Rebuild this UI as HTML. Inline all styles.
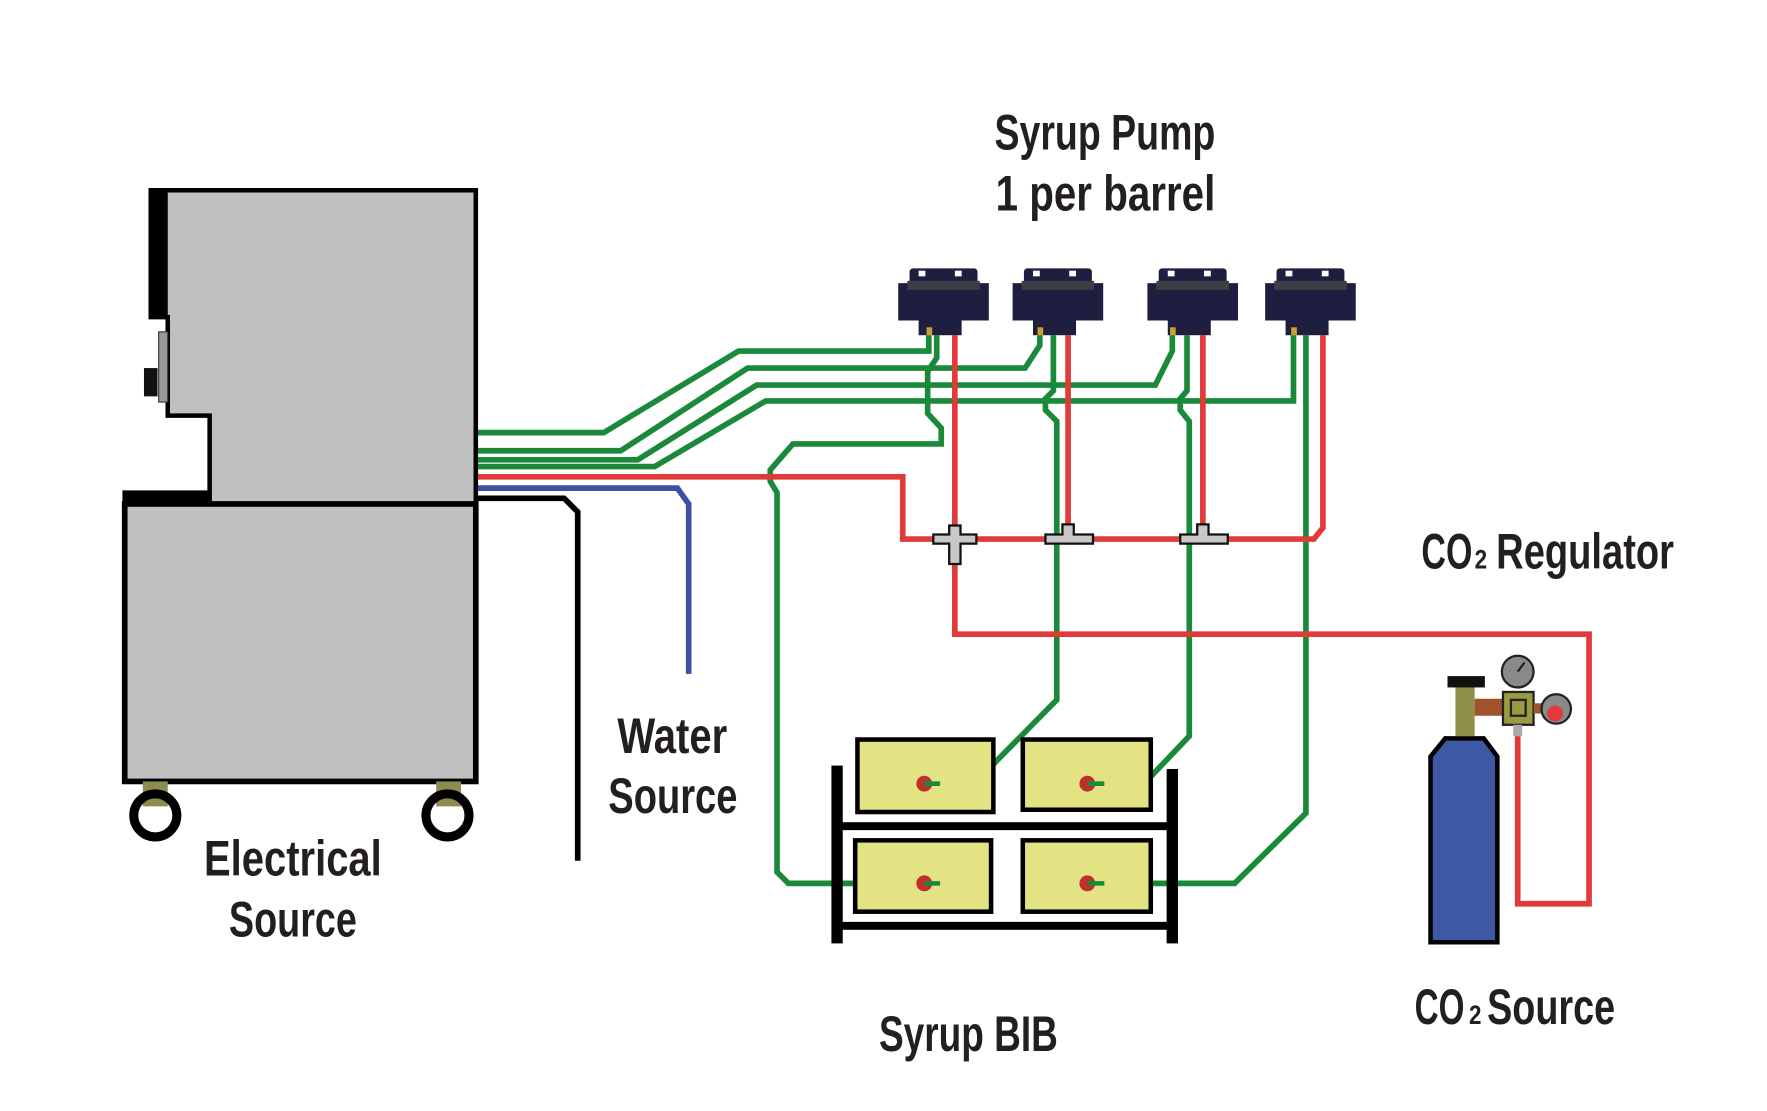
<!DOCTYPE html>
<html><head><style>
html,body{margin:0;padding:0;background:#fff;}
svg{display:block;}
text{font-family:"Liberation Sans Narrow","Liberation Sans",sans-serif;font-weight:bold;fill:#231f20;}
</style></head><body>
<svg width="1767" height="1111" viewBox="0 0 1560 981" xmlns="http://www.w3.org/2000/svg">
<rect width="1560" height="981" fill="#fff"/>
<g fill="none" stroke-linejoin="miter" stroke-width="5">
<polyline stroke="#1a8a3a" points="420,382 533,382 652,310 820,310 820,296"/>
<polyline stroke="#1a8a3a" points="420,398 548,398 660,325 905,325 918,305 918,296"/>
<polyline stroke="#1a8a3a" points="420,406 563,406 668,340 1020,340 1035,310 1035,296"/>
<polyline stroke="#1a8a3a" points="420,412 578,412 676,354 1142,354 1142,296"/>
<polyline stroke="#1a8a3a" points="827,296 827,316 819,328 819,365 831,378 831,392 700,392 680,415 680,425 686,435 686,770 696,780 816,780"/>
<polyline stroke="#1a8a3a" points="930,296 930,345 923,352 923,362 933,372 933,618 860,692 816,692"/>
<polyline stroke="#1a8a3a" points="1048,296 1048,345 1042,352 1042,362 1050,372 1050,650 1010,692 960,692"/>
<polyline stroke="#1a8a3a" points="1153,296 1153,718 1090,780 960,780"/>
<polyline stroke="#e03a3a" points="420,421 797,421 797,476 1160,476 1168,466 1168,296"/>
<polyline stroke="#e03a3a" points="843,296 843,560 1403,560 1403,798 1340,798 1340,650"/>
<polyline stroke="#e03a3a" points="943,296 943,476"/>
<polyline stroke="#e03a3a" points="1062,296 1062,476"/>
<polyline stroke="#3f4fa3" points="420,431 598,431 608,445 608,595"/>
<polyline stroke="#000" points="420,440 498,440 510,452 510,760"/>
</g>
<g fill="#c8c8c8" stroke="#111" stroke-width="2">
<path d="M838,464 h10 v8 h14 v8 h-14 v18 h-10 v-18 h-14 v-8 h14z"/>
<path d="M938,463 h10 v9 h17 v8 h-42 v-8 h15z"/>
<path d="M1057,463 h10 v9 h17 v8 h-42 v-8 h15z"/>
</g>
<g>
<g transform="translate(833,0)"><rect x="-30" y="237" width="60" height="14" rx="3" fill="#1e1f40"/><rect x="-22" y="239" width="6" height="5" fill="#fff"/><rect x="10" y="239" width="6" height="5" fill="#fff"/><rect x="-40" y="250" width="80" height="33" fill="#1e1f40"/><rect x="-32" y="248" width="64" height="8" fill="#3d3d45"/><rect x="-22" y="283" width="38" height="13" fill="#1e1f40"/><rect x="-15" y="289" width="5" height="7" fill="#c8a030"/></g>
<g transform="translate(934,0)"><rect x="-30" y="237" width="60" height="14" rx="3" fill="#1e1f40"/><rect x="-22" y="239" width="6" height="5" fill="#fff"/><rect x="10" y="239" width="6" height="5" fill="#fff"/><rect x="-40" y="250" width="80" height="33" fill="#1e1f40"/><rect x="-32" y="248" width="64" height="8" fill="#3d3d45"/><rect x="-22" y="283" width="38" height="13" fill="#1e1f40"/><rect x="-18" y="289" width="5" height="7" fill="#c8a030"/></g>
<g transform="translate(1053,0)"><rect x="-30" y="237" width="60" height="14" rx="3" fill="#1e1f40"/><rect x="-22" y="239" width="6" height="5" fill="#fff"/><rect x="10" y="239" width="6" height="5" fill="#fff"/><rect x="-40" y="250" width="80" height="33" fill="#1e1f40"/><rect x="-32" y="248" width="64" height="8" fill="#3d3d45"/><rect x="-22" y="283" width="38" height="13" fill="#1e1f40"/><rect x="-20" y="289" width="5" height="7" fill="#c8a030"/></g>
<g transform="translate(1157,0)"><rect x="-30" y="237" width="60" height="14" rx="3" fill="#1e1f40"/><rect x="-22" y="239" width="6" height="5" fill="#fff"/><rect x="10" y="239" width="6" height="5" fill="#fff"/><rect x="-40" y="250" width="80" height="33" fill="#1e1f40"/><rect x="-32" y="248" width="64" height="8" fill="#3d3d45"/><rect x="-22" y="283" width="38" height="13" fill="#1e1f40"/><rect x="-17" y="289" width="5" height="7" fill="#c8a030"/></g>
</g>
<g>
<path d="M133,168 H420 V445 H185 V367 H148 V280 H133 Z" fill="#c0c0c0" stroke="#000" stroke-width="4"/>
<rect x="133" y="168" width="15" height="112" fill="#000"/>
<rect x="140" y="293" width="8" height="62" fill="#999" stroke="#333" stroke-width="1"/>
<rect x="127" y="325" width="12" height="25" fill="#111"/>
<rect x="108" y="433" width="77" height="14" fill="#000"/>
<rect x="110" y="445" width="310" height="245" fill="#c0c0c0" stroke="#000" stroke-width="5"/>
<rect x="126" y="690" width="22" height="22" fill="#8c8c50"/>
<rect x="385" y="690" width="22" height="22" fill="#8c8c50"/>
<circle cx="137" cy="720" r="19" fill="none" stroke="#000" stroke-width="8"/>
<circle cx="395" cy="720" r="19" fill="none" stroke="#000" stroke-width="8"/>
</g>
<g>
<rect x="734" y="676" width="10" height="157" fill="#000"/>
<rect x="1030" y="679" width="10" height="154" fill="#000"/>
<rect x="739" y="726" width="296" height="7" fill="#000"/>
<rect x="739" y="814" width="296" height="7" fill="#000"/>
<g fill="#e3e384" stroke="#000" stroke-width="4">
<rect x="757" y="653" width="120" height="64"/>
<rect x="903" y="653" width="113" height="62"/>
<rect x="755" y="742" width="120" height="63"/>
<rect x="903" y="742" width="113" height="63"/>
</g>
<g fill="#c0302a"><circle cx="816" cy="692" r="7"/><circle cx="960" cy="692" r="7"/><circle cx="816" cy="780" r="7"/><circle cx="960" cy="780" r="7"/></g>
<g stroke="#1a8a3a" stroke-width="4"><line x1="816" y1="692" x2="830" y2="692"/><line x1="960" y1="692" x2="975" y2="692"/><line x1="816" y1="780" x2="830" y2="780"/><line x1="960" y1="780" x2="975" y2="780"/></g>
</g>
<g>
<path d="M1263,832 V668 L1276,652 H1310 L1322,668 V832 Z" fill="#3f58a3" stroke="#000" stroke-width="4"/>
<rect x="1285" y="605" width="17" height="45" fill="#8f8f4a"/>
<rect x="1278" y="597" width="33" height="10" fill="#111"/>
<rect x="1302" y="617" width="28" height="15" fill="#a0522d"/>
<rect x="1327" y="611" width="27" height="29" fill="#9a9a40" stroke="#222" stroke-width="2"/>
<rect x="1334" y="618" width="13" height="14" fill="none" stroke="#222" stroke-width="2"/>
<circle cx="1340" cy="593" r="14" fill="#8a8a8a" stroke="#222" stroke-width="2"/>
<line x1="1340" y1="593" x2="1346" y2="585" stroke="#222" stroke-width="2"/>
<rect x="1354" y="621" width="8" height="9" fill="#a0522d"/>
<circle cx="1374" cy="626" r="13" fill="#8a8a8a" stroke="#222" stroke-width="2"/>
<circle cx="1373" cy="630" r="7" fill="#e03a3a"/>
<rect x="1336" y="640" width="8" height="10" fill="#aaa"/>
</g>
<text x="878" y="132" font-size="44" textLength="195" lengthAdjust="spacingAndGlyphs">Syrup Pump</text>
<text x="879" y="186" font-size="44" textLength="194" lengthAdjust="spacingAndGlyphs">1 per barrel</text>
<text x="1255" y="502" font-size="44" textLength="45" lengthAdjust="spacingAndGlyphs">CO</text>
<text x="1302" y="502" font-size="24" textLength="11" lengthAdjust="spacingAndGlyphs">2</text>
<text x="1321" y="502" font-size="44" textLength="157" lengthAdjust="spacingAndGlyphs">Regulator</text>
<text x="545" y="665" font-size="44" textLength="97" lengthAdjust="spacingAndGlyphs">Water</text>
<text x="537" y="718" font-size="44" textLength="114" lengthAdjust="spacingAndGlyphs">Source</text>
<text x="180" y="773" font-size="44" textLength="157" lengthAdjust="spacingAndGlyphs">Electrical</text>
<text x="202" y="827" font-size="44" textLength="113" lengthAdjust="spacingAndGlyphs">Source</text>
<text x="776" y="928" font-size="44" textLength="158" lengthAdjust="spacingAndGlyphs">Syrup BIB</text>
<text x="1249" y="904" font-size="44" textLength="44" lengthAdjust="spacingAndGlyphs">CO</text>
<text x="1297" y="904" font-size="24" textLength="11" lengthAdjust="spacingAndGlyphs">2</text>
<text x="1313" y="904" font-size="44" textLength="113" lengthAdjust="spacingAndGlyphs">Source</text>
</svg>
</body></html>
